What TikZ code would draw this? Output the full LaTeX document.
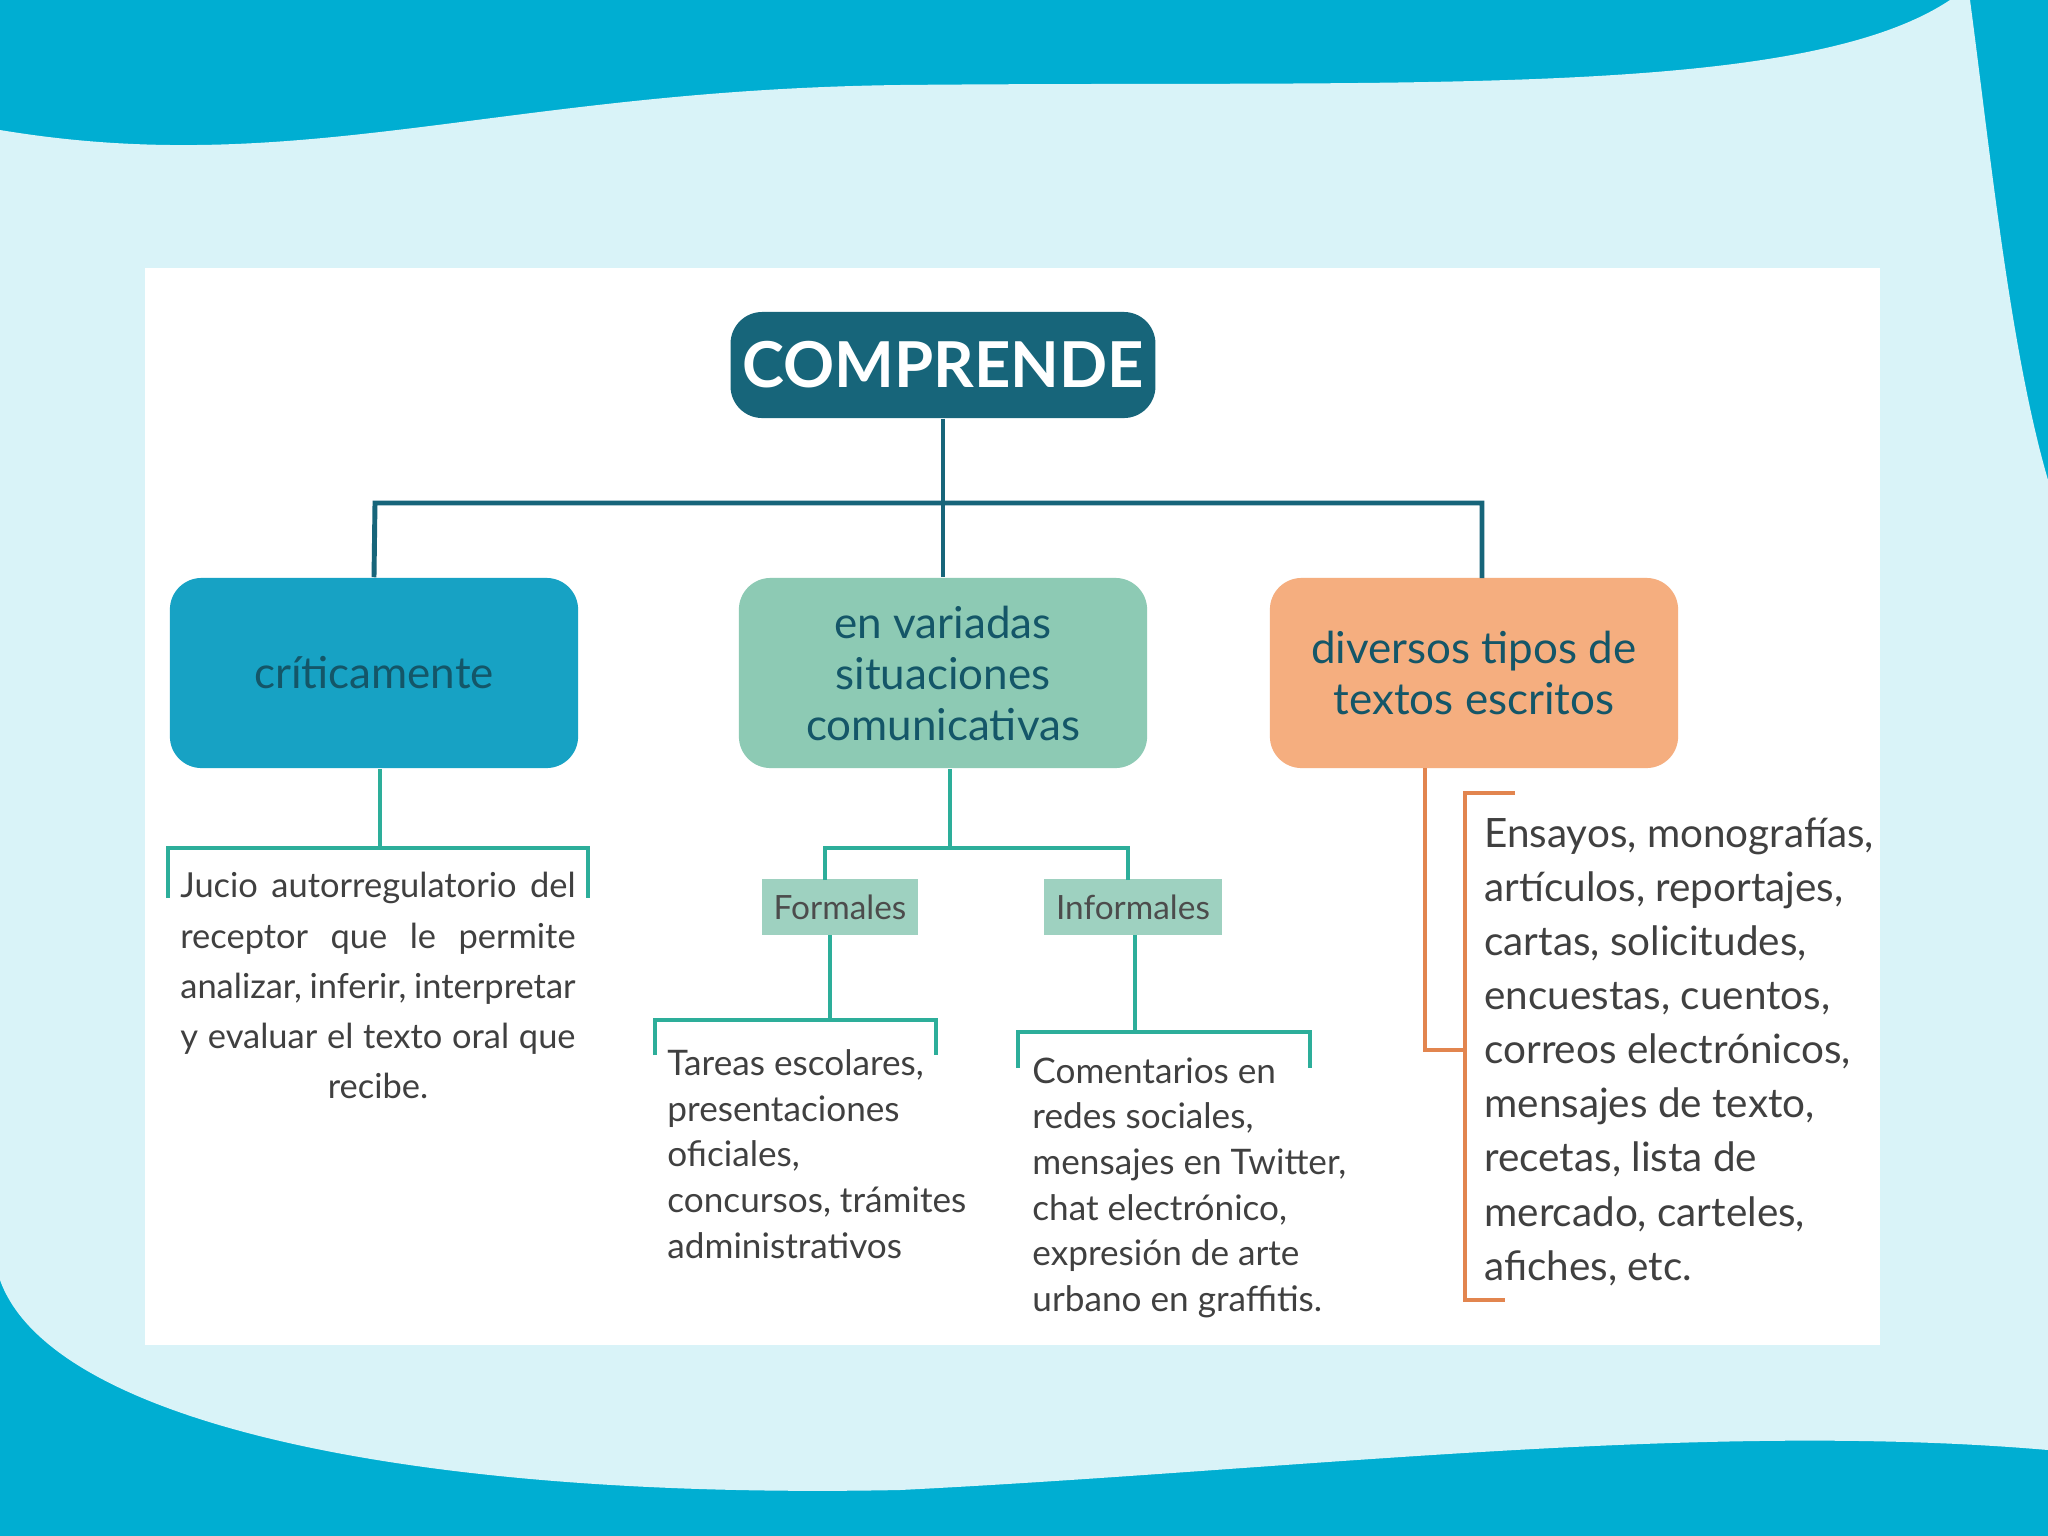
\documentclass[tikz,border=0pt]{standalone}
\usepackage{fontspec}
\setmainfont{Lato}
\newcommand{\jline}[1]{\makebox[3.95cm][s]{#1}}
\begin{document}
\begin{tikzpicture}[x=0.01cm,y=-0.01cm,
  big/.style={rounded corners=9pt,minimum width=4.08cm,minimum height=1.9cm,align=center,font=\fontsize{12.5}{14.5}\selectfont,text=cDark!85!black},
  sm/.style={minimum width=1.55cm,minimum height=0.55cm,fill=cSm,font=\fontsize{9.5}{11}\selectfont,text=black!70},
  txt/.style={align=left,anchor=north west,font=\fontsize{10}{13}\selectfont,text=black!75},
  dk/.style={draw=cDark,line width=1.4pt},
  gr/.style={draw=cGreen,line width=1.4pt},
  og/.style={draw=cOrange,line width=1.4pt}]
\definecolor{cBg}{HTML}{00AED2}
\definecolor{cDark}{HTML}{17657A}
\definecolor{cGreen}{HTML}{2DAE9A}
\definecolor{cOrange}{HTML}{E2854F}
\definecolor{cCrit}{HTML}{17A2C4}
\definecolor{cVar}{HTML}{8DCAB4}
\definecolor{cDiv}{HTML}{F5AE7F}
\definecolor{cSm}{HTML}{9ED1C0}
\useasboundingbox (0,0) rectangle (2048,1536);
\fill[cBg] (0,0) rectangle (2048,1536);
\fill[white!85!cBg] (0,130) .. controls (300,180) and (500,90) .. (900,85)
  .. controls (1400,80) and (1800,100) .. (1950,0) -- (1970,0)
  .. controls (1990,150) and (2010,350) .. (2048,480) -- (2048,1450)
  .. controls (1700,1420) and (1300,1470) .. (900,1490)
  .. controls (400,1500) and (50,1420) .. (0,1280) -- cycle;
\fill[white] (145,268) rectangle (1880,1345);
\node[fill=cDark,rounded corners=9pt,minimum width=4.07cm,minimum height=1.06cm,text=white,font=\bfseries\fontsize{18}{20}\selectfont] (top) at (943,365) {COMPRENDE};
\node[big,fill=cCrit] (crit) at (374,673) {críticamente};
\node[big,fill=cVar] (var) at (943,673) {en variadas\\situaciones\\comunicativas};
\node[big,fill=cDiv] (div) at (1474,673) {diversos tipos de\\textos escritos};
\draw[dk] (top.south) -- (var.north);
\draw[dk] (crit.north) -- (375,503) -- (1482,503) -- (1482,578);
% criticamente
\coordinate (c1) at (380,848);
\draw[gr] (crit.south -| c1) -- (c1);
\draw[gr] (168,898) -- (168,848) -- (588,848) -- (588,898);
\node[txt,align=center,anchor=north,font=\fontsize{9.8}{14.3}\selectfont] (ct) at (378,860) {\jline{Jucio autorregulatorio del}\\\jline{receptor que le permite}\\\jline{analizar, inferir, interpretar}\\\jline{y evaluar el texto oral que}\\recibe.};
% middle
\node[sm] (f) at (840,907) {Formales};
\node[sm,minimum width=1.67cm] (i) at (1133,907) {Informales};
\coordinate (m1) at (950,848);
\draw[gr] (var.south -| m1) -- (m1);
\draw[gr] (825,880) -- (825,848) -- (1128,848) -- (1128,880);
\draw[gr] (830,935) -- (830,1020);
\draw[gr] (655,1055) -- (655,1020) -- (936,1020) -- (936,1055);
\draw[gr] (1135,935) -- (1135,1032);
\draw[gr] (1018,1068) -- (1018,1032) -- (1310,1032) -- (1310,1068);
\node[txt] (ft) at (655,1037) {Tareas escolares,\\presentaciones\\oficiales,\\concursos, trámites\\administrativos};
\node[txt] (it) at (1020,1045) {Comentarios en\\redes sociales,\\mensajes en Twitter,\\chat electrónico,\\expresión de arte\\urbano en graffitis.};
% right
\draw[og] (1425,768) -- (1425,1050) -- (1465,1050);
\draw[og] (1515,793) -- (1465,793) -- (1465,1300) -- (1505,1300);
\node[txt,font=\fontsize{11.5}{15.4}\selectfont] (dt) at (1472,805) {Ensayos, monografías,\\artículos, reportajes,\\cartas, solicitudes,\\encuestas, cuentos,\\correos electrónicos,\\mensajes de texto,\\recetas, lista de\\mercado, carteles,\\afiches, etc.};
\end{tikzpicture}
\end{document}
